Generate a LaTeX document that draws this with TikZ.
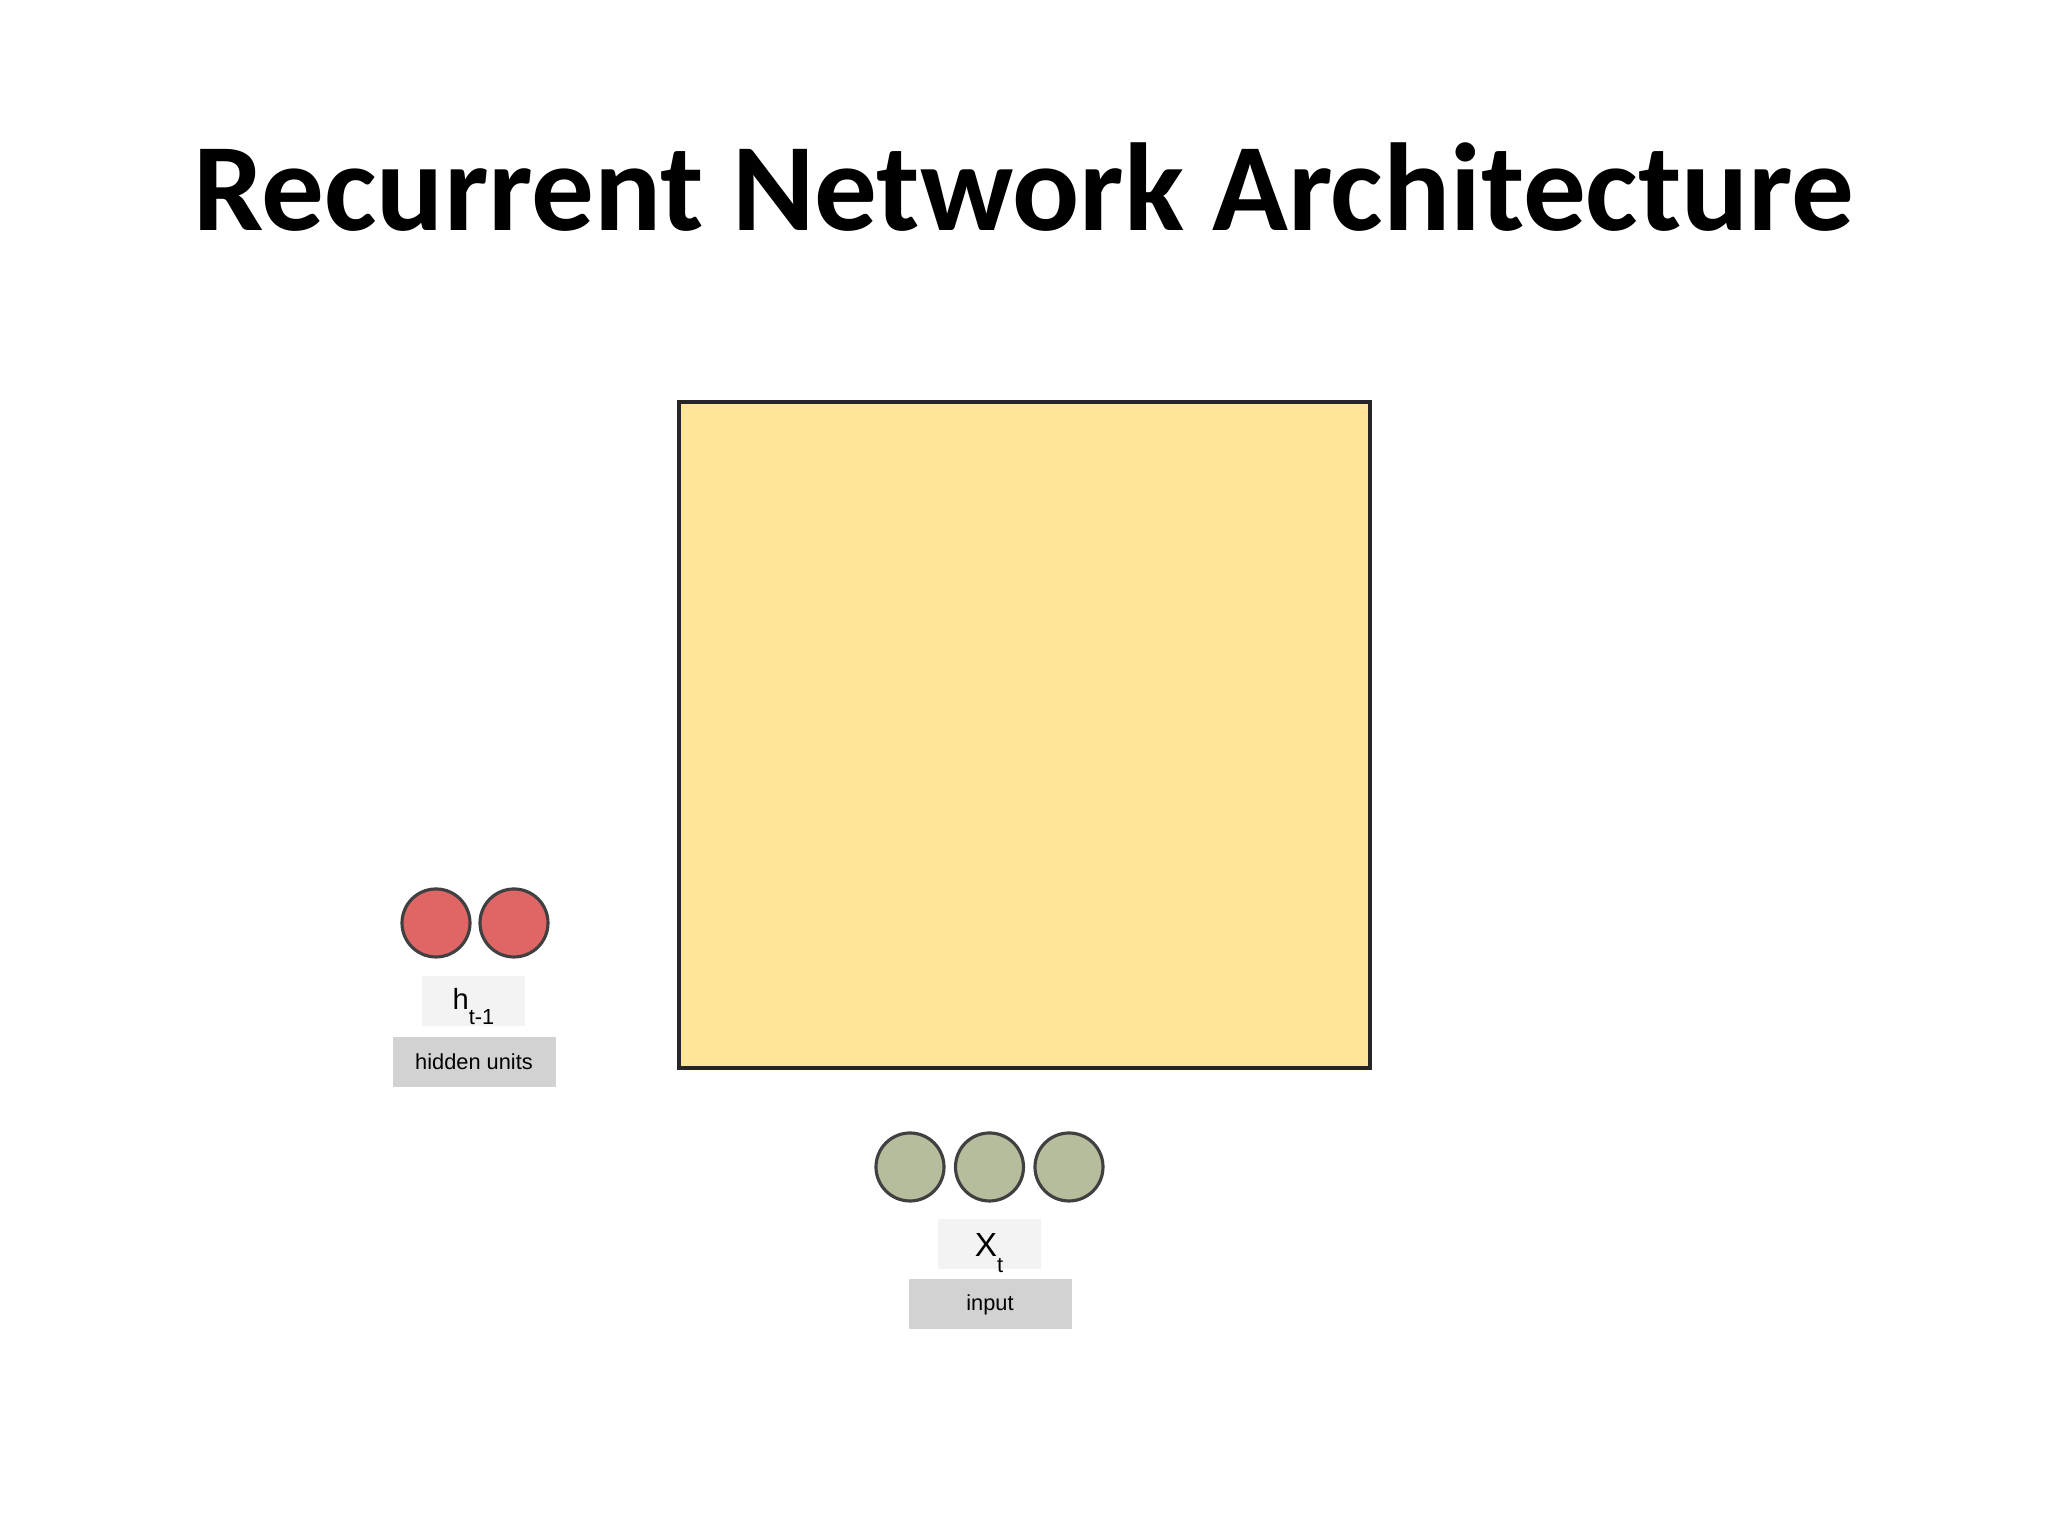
\documentclass[tikz,border=0pt]{standalone}
\usepackage{fontspec}
\setmainfont{Liberation Sans}
\newfontfamily\titlefont{Carlito}
\usepackage{tikz}
\usetikzlibrary{positioning}
\definecolor{cellyellow}{HTML}{FFE599}
\definecolor{hiddenred}{HTML}{E06666}
\definecolor{inputgreen}{HTML}{B6BD9C}
\definecolor{tagpale}{HTML}{F3F3F3}
\definecolor{taggray}{HTML}{D2D2D2}
\tikzset{unit/.style={draw=black!75, circle, inner sep=0pt, minimum size=0.68cm, line width=0.9pt}}
\tikzset{symtag/.style={fill=tagpale, inner sep=0pt, minimum width=1.03cm, minimum height=0.5cm, text height=9pt, text depth=4.4pt, font=\fontsize{8.3}{9}\selectfont}}
\tikzset{nametag/.style={fill=taggray, inner sep=0pt, minimum width=1.63cm, minimum height=0.5cm, font=\fontsize{6.2}{7}\selectfont}}
\newcommand{\lowsub}[1]{\raisebox{-4.3pt}{\fontsize{6.2}{7}\selectfont #1}}

\begin{document}
\begin{tikzpicture}
\useasboundingbox (0,0) rectangle (20.48,15.36);

\node[anchor=base, font=\titlefont\bfseries\fontsize{35.6}{40}\selectfont] (title) at (10.24,13.05) {Recurrent Network Architecture};

\filldraw[fill=cellyellow, draw=black!85, line width=1.3pt] (6.79,4.68) rectangle (13.70,11.34);

% hidden units
\node[unit, fill=hiddenred] (h1) at (4.36,6.13) {};
\node[unit, fill=hiddenred] (h2) at (5.14,6.13) {};
\node[symtag] (hsym) at (4.735,5.345) {h\lowsub{t-1}};
\node[nametag] (hname) at (4.74,4.74) {hidden units};

% input
\node[unit, fill=inputgreen] (x1) at (9.10,3.69) {};
\node[unit, fill=inputgreen] (x2) at (9.895,3.69) {};
\node[unit, fill=inputgreen] (x3) at (10.69,3.69) {};
\node[symtag, text height=10.5pt, text depth=3.1pt, font=\fontsize{9.5}{10}\selectfont] (xsym) at (9.89,2.92) {X\lowsub{t}};
\node[nametag] (xname) at (9.90,2.315) {input};

\end{tikzpicture}
\end{document}
